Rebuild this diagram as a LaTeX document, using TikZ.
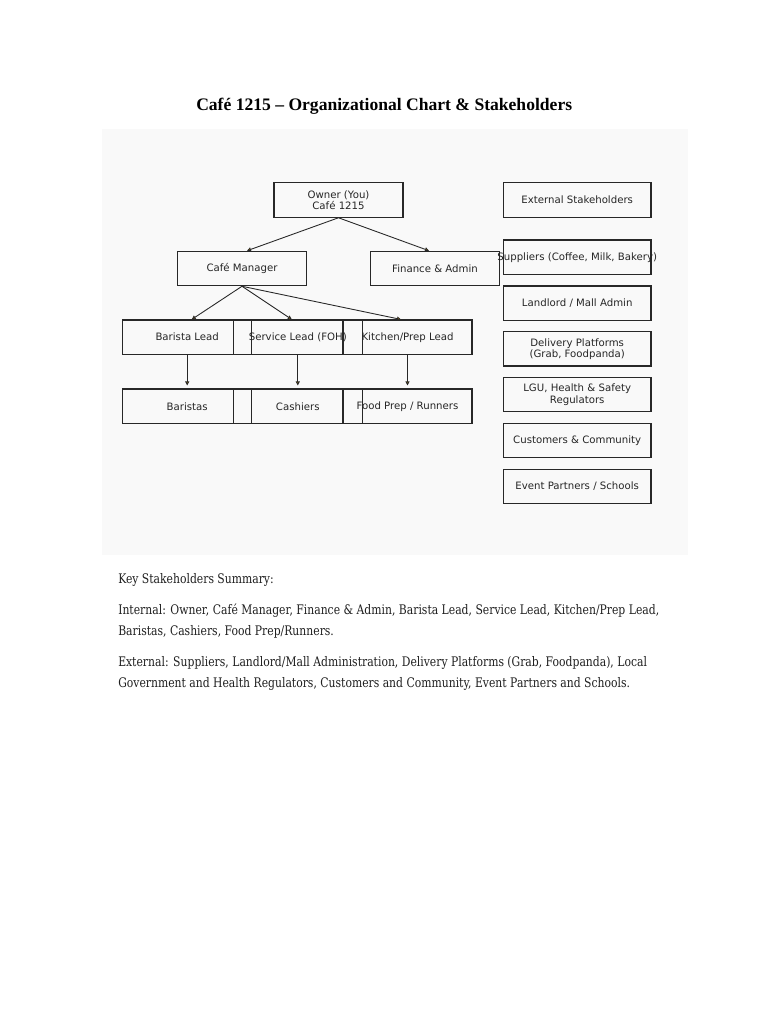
\documentclass[tikz,border=0pt]{standalone}
\usepackage{fontspec}
\setmainfont{Liberation Serif}
\newfontfamily\corpsfont{DejaVu Serif}[FakeStretch=0.82]
\newfontfamily\schemafont{DejaVu Sans}
\usetikzlibrary{arrows.meta, positioning, calc}
\newlength\pxu
\setlength\pxu{0.7966pt}
\definecolor{trait}{RGB}{40,40,40}
\definecolor{pointe}{RGB}{200,140,0}
\definecolor{fond}{RGB}{249,249,249}

\begin{document}
\begin{tikzpicture}[x=\pxu,y=-\pxu]
        \tikzset{
          boite/.style={
            draw=trait,line width=1pt,align=center,inner sep=0pt,
            minimum width=102.6pt,minimum height=27.3pt,
            font=\schemafont\fontsize{8.1}{8.8}\selectfont,text=black!85,
          },
          boite large/.style={boite,minimum width=117.5pt},
          fleche/.style={
            draw=trait,line width=0.7pt,
            -{Triangle[length=3.2pt,width=3.2pt,fill=pointe]},
          },
          texte/.style={anchor=base west,inner sep=0pt,
            font=\corpsfont\fontsize{10.5}{13}\selectfont,text=black!88},
          }
        \useasboundingbox (0,0) rectangle (768,1024);
        \fill[white] (0,0) rectangle (768,1024);
        \fill[fond] (101.7,129) rectangle (688,555);

        \node[anchor=base,inner sep=0pt,font=\bfseries\fontsize{14}{17}\selectfont] (titre) at (384.2,111)
          {Café 1215 – Organizational Chart \& Stakeholders};

        % organigramme
        \node[boite] (a) at (338.5,200) {Owner (You)\\Café 1215};
        \node[boite] (b) at (242,268.5) {Café Manager};
        \node[boite] (c) at (435,268.5) {Finance \& Admin};
        \node[boite] (d) at (187.2,337.2) {Barista Lead};
        \node[boite] (e) at (297.8,337.2) {Service Lead (FOH)};
        \node[boite] (f) at (407.5,337.2) {Kitchen/Prep Lead};
        \node[boite, below=26.7pt of d] (g) {Baristas};
        \node[boite, below=26.7pt of e] (h) {Cashiers};
        \node[boite, below=26.7pt of f] (i) {Food Prep / Runners};

        % parties externes
        \node[boite large] (j) at (577.2,200) {External Stakeholders};
        \node[boite large, below=17.3pt of j] (k) {\makebox[0pt]{Suppliers (Coffee, Milk, Bakery)}};
        \node[boite large, below=8.2pt of k] (l) {Landlord / Mall Admin};
        \node[boite large, below=8.2pt of l] (m) {Delivery Platforms\\(Grab, Foodpanda)};
        \node[boite large, below=8.2pt of m] (n) {LGU, Health \& Safety\\Regulators};
        \node[boite large, below=8.2pt of n] (o) {Customers \& Community};
        \node[boite large, below=8.2pt of o] (p) {Event Partners / Schools};

        \draw[fleche] (a.south) -- ($(b.north)+(5,0)$);
        \draw[fleche] (a.south) -- ($(c.north)+(-6,0)$);
        \draw[fleche] (b.south) -- ($(d.north)+(4.5,0)$);
        \draw[fleche] (b.south) -- ($(e.north)+(-6,0)$);
        \draw[fleche] (b.south) -- ($(f.north)+(-6.5,0)$);
        \draw[fleche,shorten >=2.4pt] (d) -- (g);
        \draw[fleche,shorten >=2.4pt] (e) -- (h);
        \draw[fleche,shorten >=2.4pt] (f) -- (i);

        % resume
        \node[texte] (q) at (118,583) {Key Stakeholders Summary:};
        \node[texte] (r) at (118,614) {Internal: Owner, Café Manager, Finance \& Admin, Barista Lead, Service Lead, Kitchen/Prep Lead,};
        \node[texte] (s) at (118,635) {Baristas, Cashiers, Food Prep/Runners.};
        \node[texte] (t) at (118,666) {External: Suppliers, Landlord/Mall Administration, Delivery Platforms (Grab, Foodpanda), Local};
        \node[texte] (u) at (118,687) {Government and Health Regulators, Customers and Community, Event Partners and Schools.};
      \end{tikzpicture}
\end{document}
